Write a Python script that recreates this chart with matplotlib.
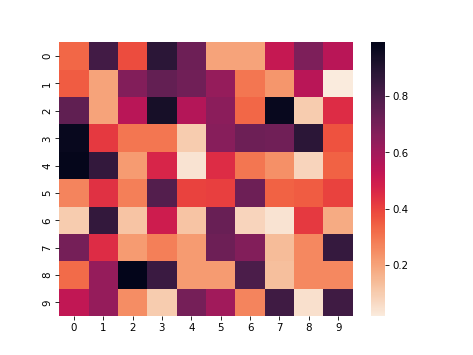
import matplotlib
matplotlib.use("Agg")
import matplotlib.pyplot as plt
import numpy as np
import seaborn as sns

# values, one list per row
row0 = [0.33, 0.82, 0.38, 0.88, 0.72, 0.20, 0.20, 0.52, 0.68, 0.55]
row1 = [0.35, 0.20, 0.67, 0.74, 0.71, 0.63, 0.30, 0.23, 0.55, 0.02]
row2 = [0.75, 0.20, 0.55, 0.93, 0.56, 0.65, 0.33, 0.97, 0.10, 0.45]
row3 = [0.97, 0.42, 0.30, 0.30, 0.10, 0.66, 0.72, 0.71, 0.88, 0.37]
row4 = [0.98, 0.86, 0.22, 0.47, 0.04, 0.45, 0.30, 0.24, 0.08, 0.34]
row5 = [0.27, 0.44, 0.28, 0.78, 0.40, 0.41, 0.72, 0.34, 0.35, 0.40]
row6 = [0.10, 0.86, 0.12, 0.50, 0.12, 0.73, 0.08, 0.04, 0.42, 0.18]
row7 = [0.70, 0.45, 0.22, 0.28, 0.22, 0.72, 0.67, 0.14, 0.26, 0.85]
row8 = [0.32, 0.63, 0.99, 0.84, 0.22, 0.22, 0.80, 0.13, 0.26, 0.26]
row9 = [0.53, 0.63, 0.25, 0.10, 0.70, 0.60, 0.27, 0.83, 0.05, 0.83]

data = np.array([row0, row1, row2, row3, row4, row5, row6, row7, row8, row9])

fig = plt.figure(figsize=(6.4, 4.8), dpi=74)
ax = sns.heatmap(data, cmap="rocket_r")

plt.savefig("out.png", dpi=74)
